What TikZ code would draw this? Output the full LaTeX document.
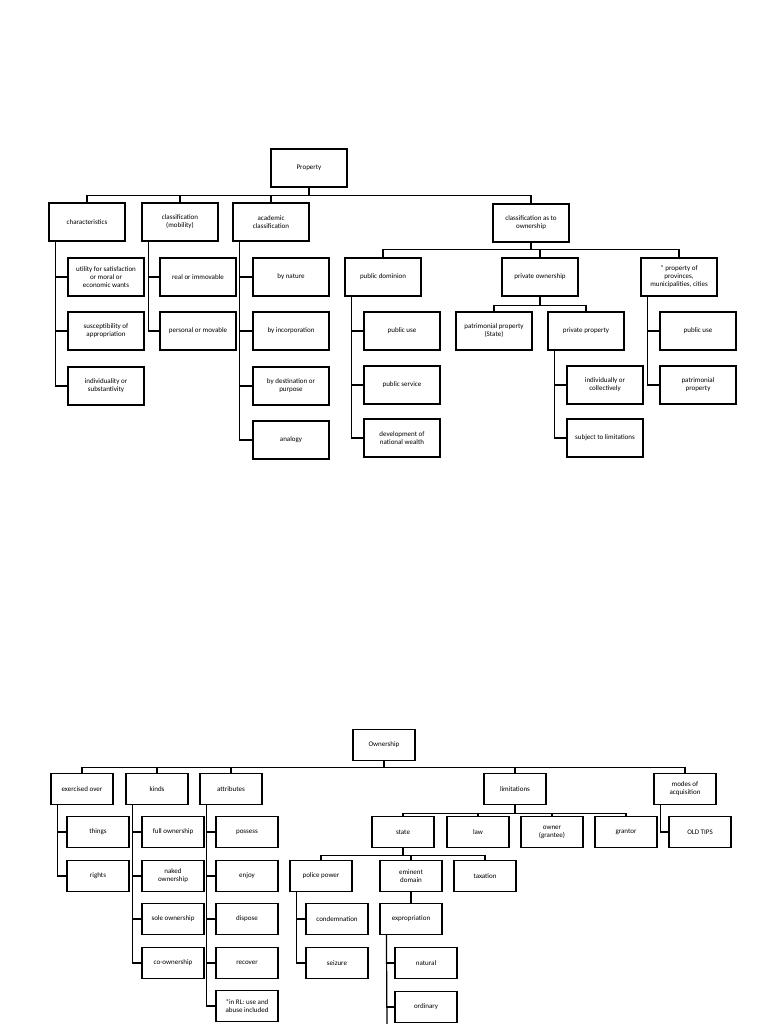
\documentclass[tikz,border=0pt]{standalone}
\usepackage{fontspec}
\setmainfont{Carlito}
\usetikzlibrary{positioning}
\tikzset{
    box/.style={draw,line width=1.2pt,minimum width=76pt,minimum height=38pt,inner sep=1pt,align=center,font=\fontsize{7}{8}\selectfont},
    sbox/.style={box,minimum width=62pt,minimum height=31pt},
    link/.style={line width=1.2pt},
}
\begin{document}
\begin{tikzpicture}[x=1pt,y=1pt]
  \useasboundingbox (0,0) rectangle (768,-1024);
  % upper chart
  \node[box] (prop) at (309,-168) {Property};
  \node[box] (char) at (87,-222) {characteristics};
  \node[box] (mob) at (180,-222) {classification\\(mobility)};
  \node[box] (acad) at (271,-222) {academic\\classification};
  \node[box] (cown) at (531,-223) {classification as to\\ownership};
  \node[box] (util) at (106,-277) {utility for satisfaction\\or moral or\\economic wants};
  \node[box] (susc) at (106,-331) {susceptibility of\\appropriation};
  \node[box] (indiv) at (106,-386) {individuality or\\substantivity};
  \node[box] (real) at (198,-277) {real or immovable};
  \node[box] (pers) at (198,-331) {personal or movable};
  \node[box] (nat) at (291,-277) {by nature};
  \node[box] (incorp) at (291,-331) {by incorporation};
  \node[box] (dest) at (291,-386) {by destination or\\purpose};
  \node[box] (anal) at (291,-440) {analogy};
  \node[box] (pubdom) at (383,-277) {public dominion};
  \node[box] (privown) at (540,-277) {private ownership};
  \node[box] (prov) at (679,-277) {* property of\\provinces,\\municipalities, cities};
  \node[box] (puse) at (402,-331) {public use};
  \node[box] (pserv) at (402,-385) {public service};
  \node[box] (devel) at (402,-438) {development of\\national wealth};
  \node[box] (patst) at (494,-331) {patrimonial property\\(State)};
  \node[box] (privprop) at (586,-331) {private property};
  \node[box] (indcol) at (605,-385) {individually or\\collectively};
  \node[box] (subj) at (605,-438) {subject to limitations};
  \node[box] (prpuse) at (698,-331) {public use};
  \node[box] (prpat) at (698,-385) {patrimonial\\property};
  \foreach \c in {char,mob,acad,cown}
    \draw[link] (prop.south) -- ++(0,-8) -| (\c.north);
  \foreach \c in {pubdom,privown,prov}
    \draw[link] (cown.south) -- ++(0,-7) -| (\c.north);
  \foreach \c in {patst,privprop}
    \draw[link] (privown.south) -- ++(0,-9) -| (\c.north);
  \foreach \p/\c in {char/util,char/susc,char/indiv,mob/real,mob/pers,
      acad/nat,acad/incorp,acad/dest,acad/anal,pubdom/puse,pubdom/pserv,pubdom/devel,
      privprop/indcol,privprop/subj,prov/prpuse,prov/prpat}
    \draw[link] ([xshift=7pt]\p.south west) |- (\c.west);
  % lower chart
  \node[sbox] (own) at (384,-745) {Ownership};
  \node[sbox] (exov) at (82,-789) {exercised over};
  \node[sbox] (kinds) at (157,-789) {kinds};
  \node[sbox] (attr) at (231,-789) {attributes};
  \node[sbox] (lim) at (515,-789) {limitations};
  \node[sbox] (modes) at (685,-789) {modes of\\acquisition};
  \node[sbox] (things) at (98,-832) {things};
  \node[sbox] (rights) at (98,-876) {rights};
  \node[sbox] (full) at (173,-832) {full ownership};
  \node[sbox] (naked) at (173,-876) {naked\\ownership};
  \node[sbox] (sole) at (173,-919) {sole ownership};
  \node[sbox] (coown) at (173,-963) {co-ownership};
  \node[sbox] (poss) at (247,-832) {possess};
  \node[sbox] (enjoy) at (247,-876) {enjoy};
  \node[sbox] (disp) at (247,-919) {dispose};
  \node[sbox] (recov) at (247,-963) {recover};
  \node[sbox] (inrl) at (247,-1006) {*in RL: use and\\abuse included};
  \node[sbox] (state) at (403,-832) {state};
  \node[sbox] (law) at (478,-832) {law};
  \node[sbox] (owner) at (552,-832) {owner\\(grantee)};
  \node[sbox] (grant) at (626,-832) {grantor};
  \node[sbox] (tips) at (700,-832) {OLD TIPS};
  \node[sbox] (police) at (321,-876) {police power};
  \node[sbox] (emin) at (411,-876) {eminent\\domain};
  \node[sbox] (tax) at (485,-876) {taxation};
  \node[sbox] (cond) at (337,-919) {condemnation};
  \node[sbox] (seiz) at (337,-963) {seizure};
  \node[sbox] (expr) at (411,-919) {expropriation};
  \node[sbox] (natural) at (426,-963) {natural};
  \node[sbox] (ordin) at (426,-1007) {ordinary};
  \coordinate (exend) at (387,-1024);
  \foreach \c in {exov,kinds,attr,lim,modes}
    \draw[link] (own.south) -- ++(0,-6) -| (\c.north);
  \foreach \c in {state,law,owner,grant}
    \draw[link] (lim.south) -- ++(0,-8) -| (\c.north);
  \foreach \c in {police,emin,tax}
    \draw[link] (state.south) -- ++(0,-7) -| (\c.north);
  \draw[link] (emin) -- (expr);
  \foreach \p/\c in {exov/things,exov/rights,kinds/full,kinds/naked,kinds/sole,kinds/coown,
      attr/poss,attr/enjoy,attr/disp,attr/recov,attr/inrl,police/cond,police/seiz,
      expr/natural,expr/ordin,modes/tips}
    \draw[link] ([xshift=7pt]\p.south west) |- (\c.west);
  \draw[link] ([xshift=7pt]expr.south west) -- (exend);
\end{tikzpicture}
\end{document}
